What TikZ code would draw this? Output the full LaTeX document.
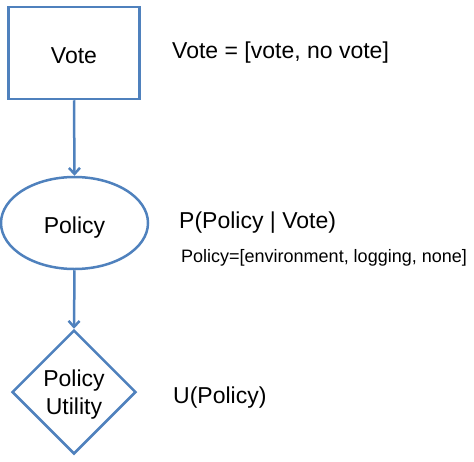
\documentclass[tikz,border=0pt]{standalone}
\usepackage{fontspec}
\setmainfont{Liberation Sans}
\usetikzlibrary{shapes.geometric,arrows.meta}
\definecolor{lineblue}{RGB}{79,129,189}
\begin{document}
\begin{tikzpicture}[x=1pt,y=-1pt,
  shapebox/.style={draw=lineblue,line width=2.5pt,inner sep=0pt,font=\fontsize{23}{28}\selectfont,align=center,text depth=0pt},
  onelinetext/.style={text height=20pt},
  conn/.style={draw=lineblue,line width=2.5pt,-{Straight Barb[length=6pt,width=11pt]}},
  biglabel/.style={anchor=base west,inner sep=0pt,font=\fontsize{23}{28}\selectfont},
  smalllabel/.style={anchor=base west,inner sep=0pt,font=\fontsize{18}{22}\selectfont}]
\useasboundingbox (0,0) rectangle (474,461);
\node[shapebox,onelinetext,rectangle,minimum width=131pt,minimum height=92pt] (vote) at (74,53) {Vote};
\node[shapebox,onelinetext,ellipse,minimum width=147pt,minimum height=92pt] (policy) at (74.5,223) {Policy};
\node[shapebox,diamond,minimum width=124pt,minimum height=124pt] (utility) at (74,392) {Policy\\Utility};
\draw[conn] (vote.south) -- (policy.north);
\draw[conn] (policy.south) -- (utility.north);
\node[biglabel] (votedef) at (172,58) {Vote = [vote, no vote]};
\node[biglabel] (cond) at (179,228) {P(Policy | Vote)};
\node[smalllabel] (policydef) at (181,262) {Policy=[environment, logging, none]};
\node[biglabel] (util) at (173,403) {U(Policy)};
\end{tikzpicture}
\end{document}
